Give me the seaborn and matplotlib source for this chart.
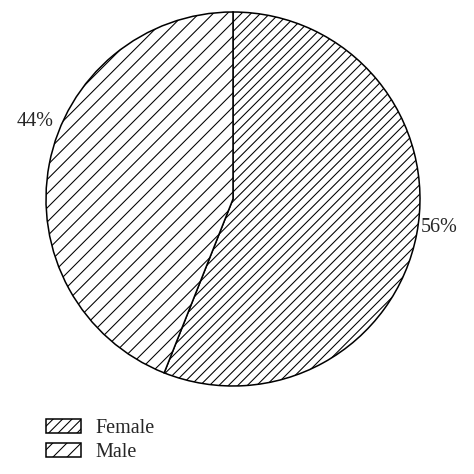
import matplotlib
matplotlib.use("Agg")
import matplotlib.pyplot as plt
import seaborn as sns

# data
groups = ["Female", "Male"]
shares = [56, 44]
pct_labels = ["56%", "44%"]
hatches = ["///", "//"]

sns.set_style("white")
plt.rcParams["font.family"] = ["Liberation Serif", "DejaVu Serif"]
plt.rcParams["hatch.linewidth"] = 0.9
plt.rcParams["hatch.color"] = "#1a1a1a"

dpi = 85
fig = plt.figure(figsize=(474 / dpi, 474 / dpi), dpi=dpi)
ax = fig.add_axes([0, 0, 1, 1])

# pie centre at pixel (233, 199), radius 187 px
r_px = 187.0
cx, cy = 233.0, 199.0
wedges, _ = ax.pie(shares, startangle=90, counterclock=False,
                   colors=["white", "white"],
                   wedgeprops=dict(edgecolor="black", linewidth=1.3))
for w, h in zip(wedges, hatches):
    w.set_hatch(h)

ax.set_xlim(-cx / r_px, (474 - cx) / r_px)
ax.set_ylim(-(474 - cy) / r_px, cy / r_px)
ax.set_aspect("auto")
ax.axis("off")

# percentage labels placed next to the rim
label_pos = [((439 - cx) / r_px, (cy - 227) / r_px),
             ((35 - cx) / r_px, (cy - 121) / r_px)]
for txt, (x, y) in zip(pct_labels, label_pos):
    ax.text(x, y, txt, ha="center", va="center", fontsize=17)

leg = fig.legend(wedges, groups, loc="upper left",
                 bbox_to_anchor=(46 / 474, 1 - 419 / 474),
                 frameon=False, fontsize=17, borderpad=0, borderaxespad=0,
                 handlelength=1.75, handleheight=0.7, handletextpad=0.7,
                 labelspacing=0.25)

fig.savefig("out.png", dpi=dpi)
